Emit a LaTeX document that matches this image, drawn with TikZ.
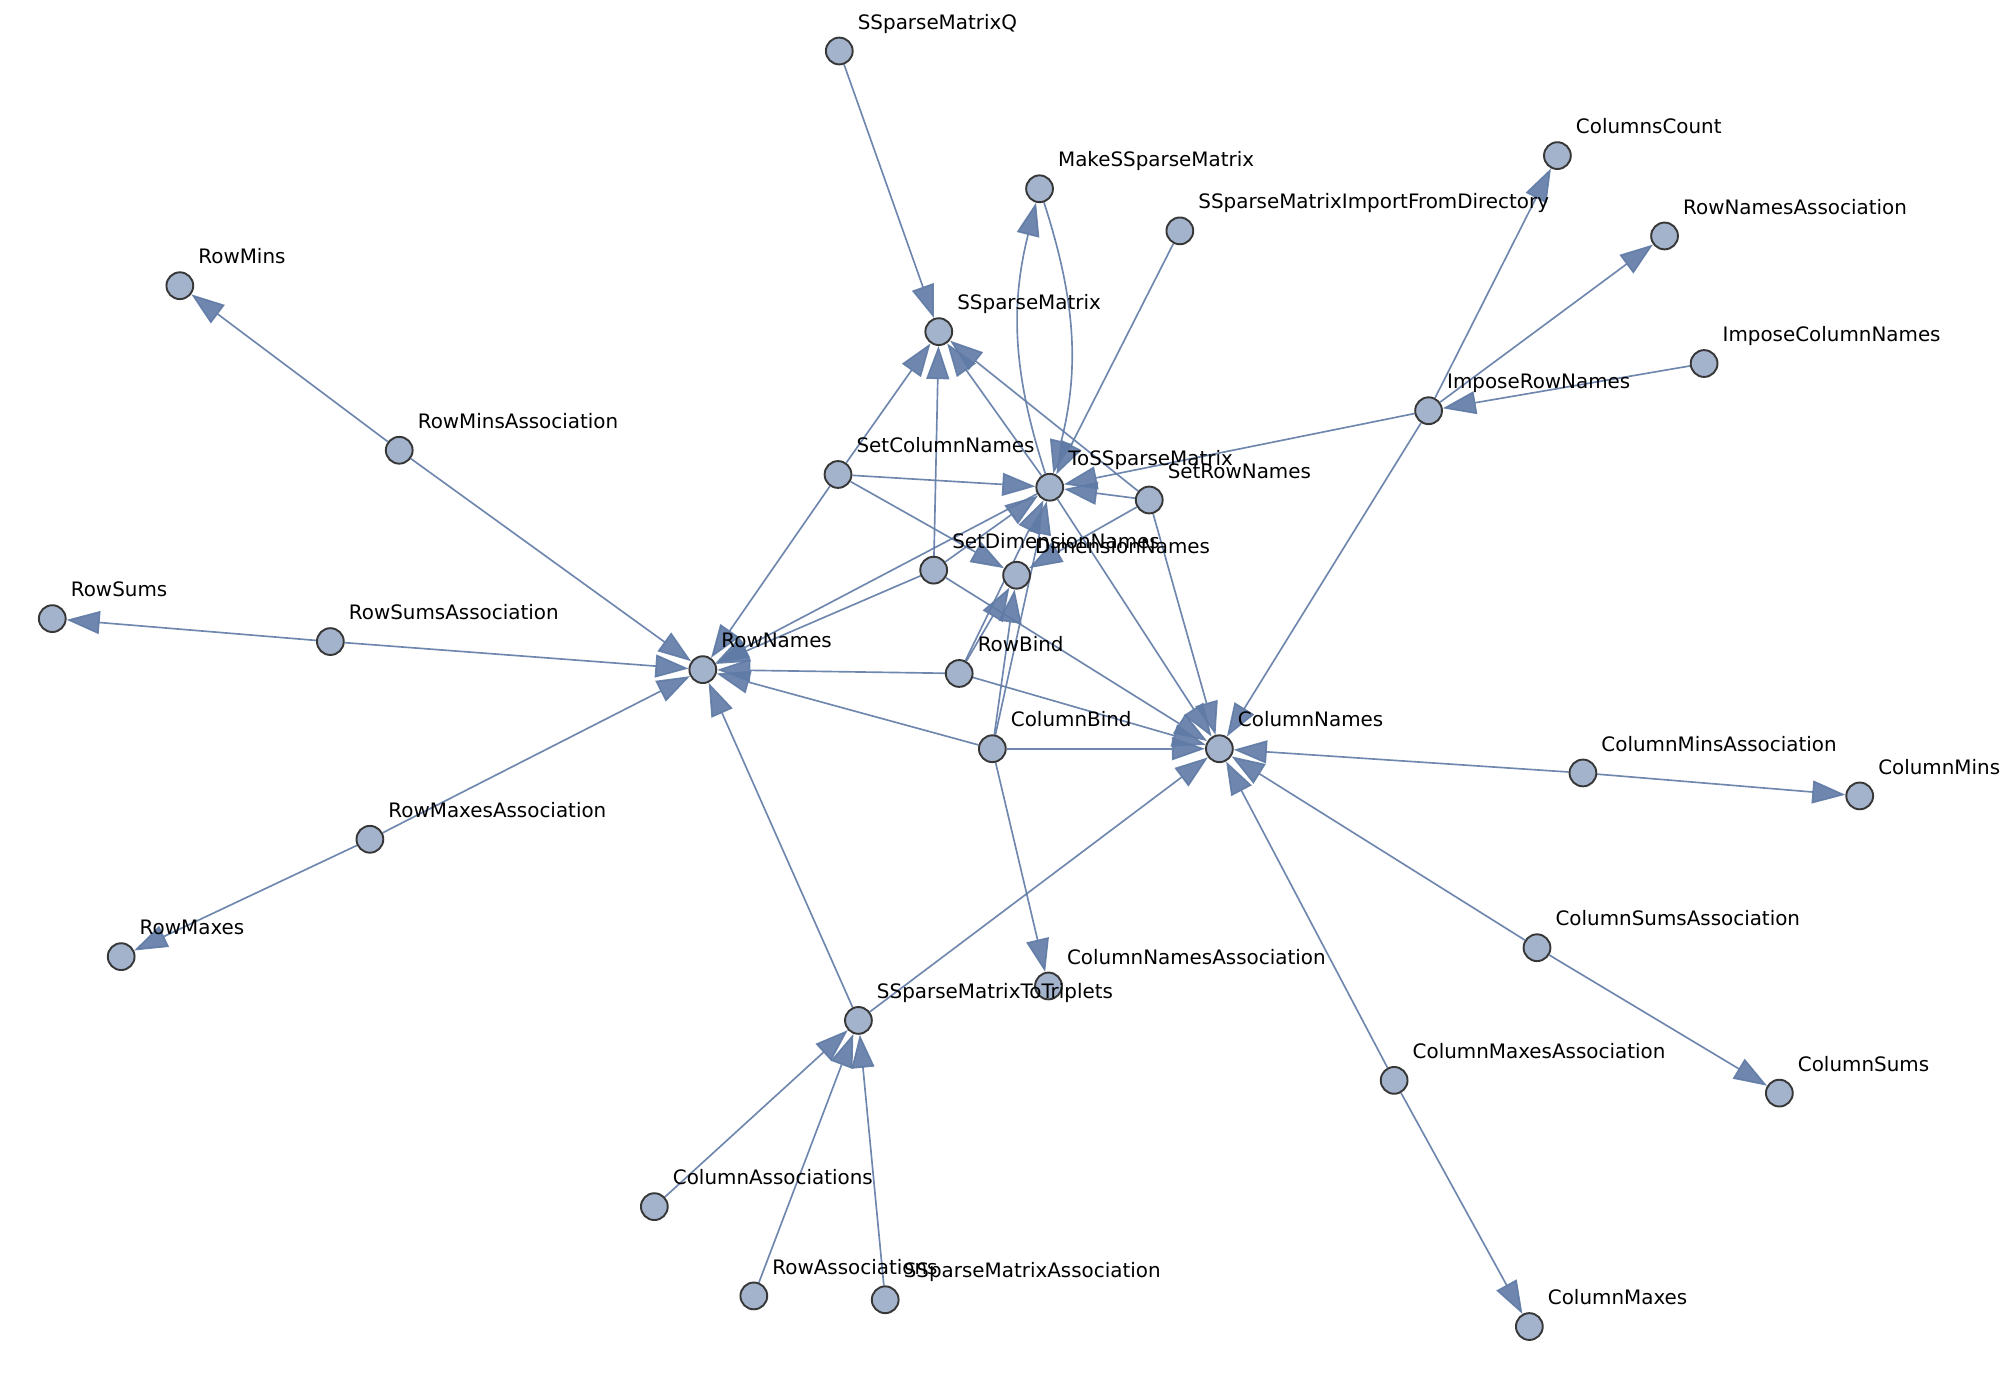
\documentclass[tikz,border=0pt]{standalone}
\usepackage{fontspec}
\setmainfont{DejaVu Sans}
\usetikzlibrary{arrows.meta}
\pgfdeclarelayer{edges}
\pgfsetlayers{edges,main}
\definecolor{vfill}{RGB}{164,179,204}
\definecolor{vline}{RGB}{55,55,55}
\definecolor{eline}{RGB}{95,122,165}
\tikzset{
  vtx/.style={circle,draw=vline,fill=vfill,line width=0.75pt,minimum size=10.5pt,inner sep=0pt},
  lbl/.style={anchor=base west,inner sep=0pt,font=\fontsize{7.8}{9}\selectfont,xshift=3.1pt,yshift=4.6pt},
  dep/.style={draw=eline,line width=0.65pt,opacity=0.9,-{Triangle[length=13pt,width=9pt]}}
}
\begin{document}
\begin{tikzpicture}[x=0.5pt,y=-0.5pt]
      \useasboundingbox (0,0) rectangle (1568,1080);
      \draw
        (658,40) node[vtx,label={[lbl,name=ql]45:SSparseMatrixQ}] (q){}
        (815,148) node[vtx,label={[lbl,name=mkl]45:MakeSSparseMatrix}] (mk){}
        (925,181) node[vtx,label={[lbl,name=impl]45:SSparseMatrixImportFromDirectory}] (imp){}
        (1221,122) node[vtx,label={[lbl,name=ccl]45:ColumnsCount}] (cc){}
        (1305,185) node[vtx,label={[lbl,name=rnal]45:RowNamesAssociation}] (rna){}
        (1336,285) node[vtx,label={[lbl,name=icnl]45:ImposeColumnNames}] (icn){}
        (1120,322) node[vtx,label={[lbl,name=irnl]45:ImposeRowNames}] (irn){}
        (141,224) node[vtx,label={[lbl,name=rminl]45:RowMins}] (rmin){}
        (736,260) node[vtx,label={[lbl,name=sml]45:SSparseMatrix}] (sm){}
        (313,353) node[vtx,label={[lbl,name=rminal]45:RowMinsAssociation}] (rmina){}
        (657,372) node[vtx,label={[lbl,name=scnl]45:SetColumnNames}] (scn){}
        (823,382) node[vtx,label={[lbl,name=tol]45:ToSSparseMatrix}] (to){}
        (901,392) node[vtx,label={[lbl,name=srnl]45:SetRowNames}] (srn){}
        (732,447) node[vtx,label={[lbl,name=sdnl]45:SetDimensionNames}] (sdn){}
        (797,451) node[vtx,label={[lbl,name=dnl]45:DimensionNames}] (dn){}
        (41,485) node[vtx,label={[lbl,name=rsuml]45:RowSums}] (rsum){}
        (259,503) node[vtx,label={[lbl,name=rsumal]45:RowSumsAssociation}] (rsuma){}
        (551,525) node[vtx,label={[lbl,name=rnl]45:RowNames}] (rn){}
        (752,528) node[vtx,label={[lbl,name=rbl]45:RowBind}] (rb){}
        (778,587) node[vtx,label={[lbl,name=cbl]45:ColumnBind}] (cb){}
        (956,587) node[vtx,label={[lbl,name=cnl]45:ColumnNames}] (cn){}
        (1241,606) node[vtx,label={[lbl,name=cminal]45:ColumnMinsAssociation}] (cmina){}
        (1458,624) node[vtx,label={[lbl,name=cminl]45:ColumnMins}] (cmin){}
        (290,658) node[vtx,label={[lbl,name=rmaxal]45:RowMaxesAssociation}] (rmaxa){}
        (95,750) node[vtx,label={[lbl,name=rmaxl]45:RowMaxes}] (rmax){}
        (1205,743) node[vtx,label={[lbl,name=csumal]45:ColumnSumsAssociation}] (csuma){}
        (822,773) node[vtx,label={[lbl,name=cnal]45:ColumnNamesAssociation}] (cna){}
        (673,800) node[vtx,label={[lbl,name=tripl]45:SSparseMatrixToTriplets}] (trip){}
        (1093,847) node[vtx,label={[lbl,name=cmaxal]45:ColumnMaxesAssociation}] (cmaxa){}
        (1395,857) node[vtx,label={[lbl,name=csuml]45:ColumnSums}] (csum){}
        (513,946) node[vtx,label={[lbl,name=cal]45:ColumnAssociations}] (ca){}
        (591,1016) node[vtx,label={[lbl,name=ral]45:RowAssociations}] (ra){}
        (694,1019) node[vtx,label={[lbl,name=smal]45:SSparseMatrixAssociation}] (sma){}
        (1199,1040) node[vtx,label={[lbl,name=cmaxl]45:ColumnMaxes}] (cmax){};
      \begin{pgfonlayer}{edges}
      \begin{scope}[dep]
        \draw (q) to (sm);
        \draw (rmina) to (rmin);
        \draw (rmina) to (rn);
        \draw (rsuma) to (rsum);
        \draw (rsuma) to (rn);
        \draw (rmaxa) to (rmax);
        \draw (rmaxa) to (rn);
        \draw (cmina) to (cmin);
        \draw (cmina) to (cn);
        \draw (csuma) to (csum);
        \draw (csuma) to (cn);
        \draw (cmaxa) to (cmax);
        \draw (cmaxa) to (cn);
        \draw (irn) to (cc);
        \draw (irn) to (rna);
        \draw (icn) to (irn);
        \draw (irn) to (to);
        \draw (irn) to (cn);
        \draw (imp) to (to);
        \draw (to) to[bend left=16] (mk);
        \draw (mk) to[bend left=16] (to);
        \draw (to) to (sm);
        \draw (to) to (rn);
        \draw (to) to (cn);
        \draw (srn) to (sm);
        \draw (srn) to (to);
        \draw (srn) to (dn);
        \draw (srn) to (cn);
        \draw (scn) to (sm);
        \draw (scn) to (to);
        \draw (scn) to (dn);
        \draw (scn) to (rn);
        \draw (sdn) to (sm);
        \draw (sdn) to (to);
        \draw (sdn) to (rn);
        \draw (sdn) to (cn);
        \draw (rb) to (dn);
        \draw (rb) to (to);
        \draw (rb) to (rn);
        \draw (rb) to (cn);
        \draw (cb) to (dn);
        \draw (cb) to (to);
        \draw (cb) to (rn);
        \draw (cb) to (cn);
        \draw (cb) to (cna);
        \draw (trip) to (rn);
        \draw (trip) to (cn);
        \draw (ca) to (trip);
        \draw (ra) to (trip);
        \draw (sma) to (trip);
      \end{scope}
      \end{pgfonlayer}
    \end{tikzpicture}
\end{document}
